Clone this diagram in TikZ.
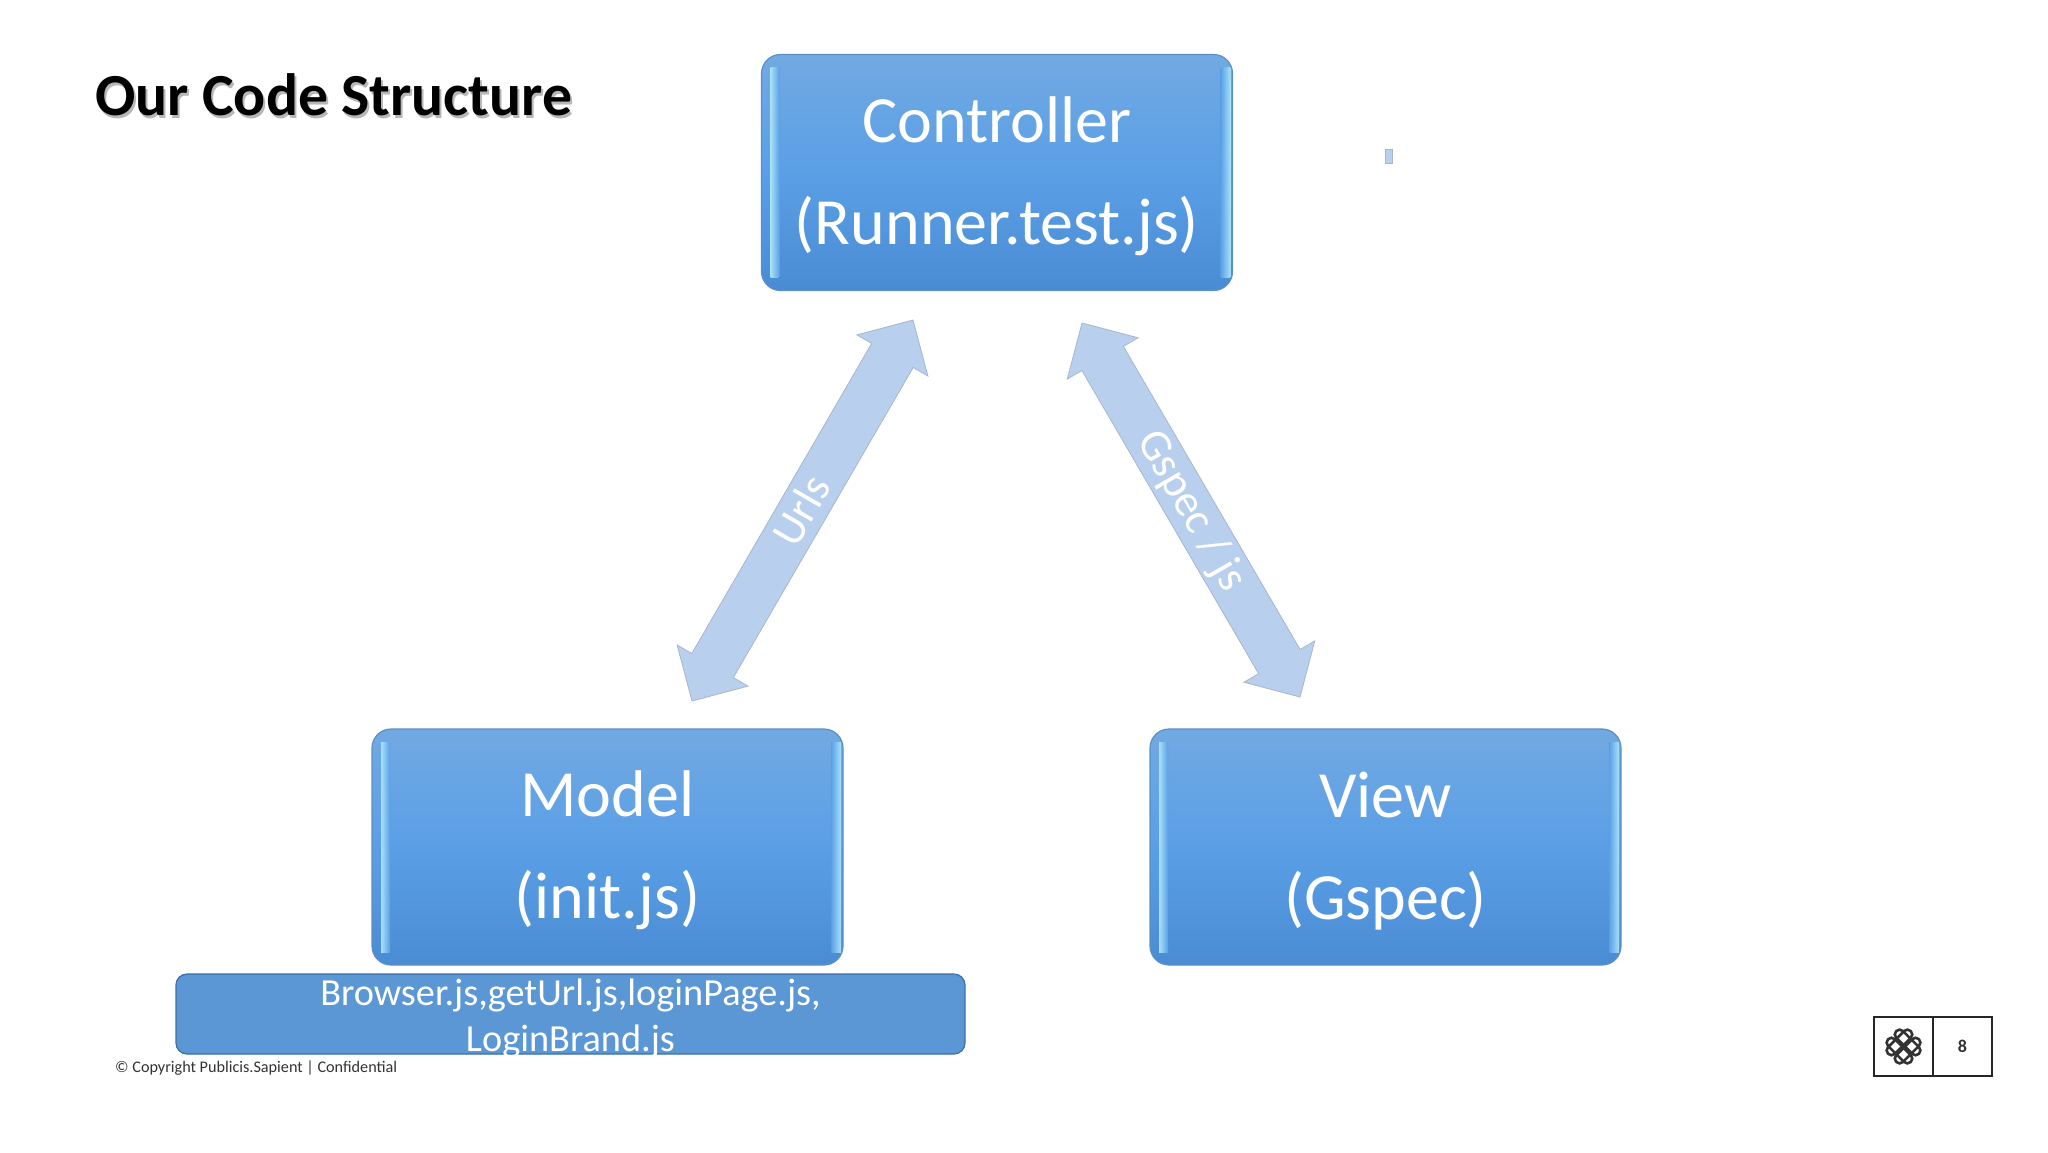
\documentclass[tikz,border=0pt]{standalone}
\usepackage{fontspec}
\setmainfont{Carlito}
\usetikzlibrary{calc}
\definecolor{boxTop}{HTML}{72A9E2}
\definecolor{boxMid}{HTML}{5A9FE6}
\definecolor{boxBot}{HTML}{4A8CD4}
\definecolor{boxEdge}{HTML}{5C8FC6}
\definecolor{strip}{HTML}{A8E0F8}
\definecolor{arrowFill}{HTML}{B8CFEE}
\definecolor{arrowEdge}{HTML}{A9B6CC}
\definecolor{noteFill}{HTML}{5B97D5}
\definecolor{noteEdge}{HTML}{3E6EA6}
\definecolor{ink}{HTML}{333333}
\newcommand{\liftbig}{\rule{0pt}{53pt}}
\newcommand{\liftsmall}{\rule{0pt}{35pt}}
\tikzset{
  mvc/.style={rounded corners=19pt, draw=boxEdge, line width=1.2pt, top color=boxTop, bottom color=boxBot, middle color=boxMid,
    minimum width=471pt, minimum height=236pt, inner sep=0pt, text=white, align=center,
    font=\fontsize{66}{102}\selectfont,
    path picture={
      \begin{scope}[sharp corners]
      \fill[left color=strip, right color=boxMid]
        ([xshift=9pt,yshift=-13pt]path picture bounding box.north west) rectangle ([xshift=18pt,yshift=13pt]path picture bounding box.south west);
      \fill[right color=strip, left color=boxMid]
        ([xshift=-2pt,yshift=-13pt]path picture bounding box.north east) rectangle ([xshift=-12pt,yshift=13pt]path picture bounding box.south east);
      \end{scope}
    }},
  note/.style={rounded corners=11pt, draw=noteEdge, line width=1.2pt, fill=noteFill, text=white, align=center, inner xsep=0pt, inner ysep=-10pt,
    minimum width=789pt, minimum height=80pt, font=\fontsize{38.3}{46}\selectfont},
  flow/.style={fill=arrowFill, draw=arrowEdge, line width=.8pt},
  flowlabel/.style={text=white, font=\fontsize{45}{50}\selectfont, inner sep=0pt},
  pagebox/.style={draw=black!85, line width=2.4pt, minimum width=59pt, minimum height=59pt, inner sep=0pt},
  lobe/.style={draw=black!80, line width=2.6pt, rounded corners=4.5pt},
}
\newcommand{\blockarrow}[2]{%
  \draw[flow] (#1)
    -- ($(#1)!41pt!(#2)!41pt!90:(#1)$) -- ($(#1)!41pt!(#2)!24pt!90:(#1)$)
    -- ($(#2)!41pt!(#1)!24pt!-90:(#2)$) -- ($(#2)!41pt!(#1)!41pt!-90:(#2)$)
    -- (#2)
    -- ($(#2)!41pt!(#1)!41pt!90:(#2)$) -- ($(#2)!41pt!(#1)!24pt!90:(#2)$)
    -- ($(#1)!41pt!(#2)!24pt!-90:(#1)$) -- ($(#1)!41pt!(#2)!41pt!-90:(#1)$)
    -- cycle;}
\begin{document}
\begin{tikzpicture}[x=1pt,y=-1pt]
\useasboundingbox (0,0) rectangle (2048,1152);
\fill[white] (0,0) rectangle (2048,1152);

\node[anchor=base west, text=black!40, opacity=.7, font=\bfseries\fontsize{59.7}{64}\selectfont, inner sep=0pt] (titleshadow) at (97,118) {Our Code Structure};
\node[anchor=base west, text=black, font=\bfseries\fontsize{59.7}{64}\selectfont, inner sep=0pt] (title) at (95,115) {Our Code Structure};

\node[mvc] (controller) at (997,172.5) {\liftbig Controller\\(Runner.test.js)};
\node[mvc] (model) at (607.5,847) {\liftbig Model\\(init.js)};
\node[mvc] (view) at (1385.5,847) {\liftbig View\\(Gspec)};

\node[note] (files) at (570.5,1014) {\liftsmall Browser.js,getUrl.js,loginPage.js,\\LoginBrand.js};
\node[anchor=base west, text=ink, font=\fontsize{16.2}{18}\selectfont, inner sep=0pt] (copy) at (115,1072) {© Copyright Publicis.Sapient | Confidential};

\coordinate (urlsTop) at (913,320);
\coordinate (urlsBot) at (692,701);
\coordinate (gspecTop) at (1082,323);
\coordinate (gspecBot) at (1300,697);
\blockarrow{urlsTop}{urlsBot}
\blockarrow{gspecTop}{gspecBot}
\node[flowlabel, rotate=60] (urls) at (801,510) {Urls};
\node[flowlabel, rotate=-60] (gspec) at (1191,511) {Gspec / js};

\node[draw=arrowEdge, fill=arrowFill, line width=.8pt, minimum width=7pt, minimum height=14pt, inner sep=0pt] (speck) at (1389,156) {};

\node[pagebox] (logobox) at (1903.5,1046.5) {};
\node[pagebox, text=ink, font=\bfseries\fontsize{18}{20}\selectfont] (pagenum) at (1962.5,1046.5) {8};
\begin{scope}[shift={(logobox.center)}, rotate=45]
  \draw[lobe] (-16,-10.5) rectangle (16,-1);
  \draw[lobe] (-16,1) rectangle (16,10.5);
  \draw[lobe] (-10.5,-16) rectangle (-1,16);
  \draw[lobe] (1,-16) rectangle (10.5,16);
\end{scope}
\end{tikzpicture}
\end{document}
